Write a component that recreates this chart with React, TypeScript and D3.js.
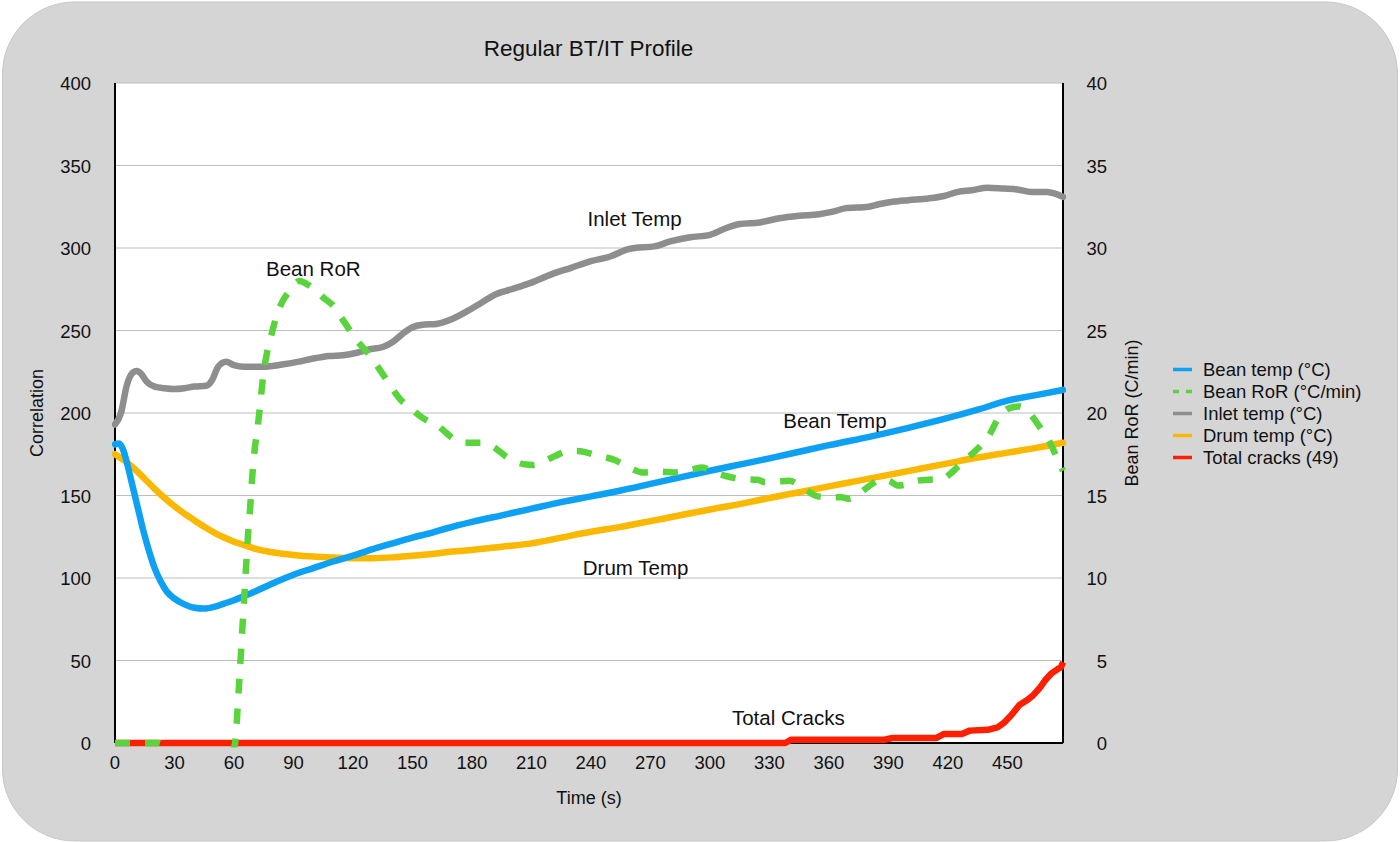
import React from "react";
import * as d3 from "d3";

type Pt = [number, number]; // [time (s), value]

// Bean temp (°C), left axis
const beanTemp: Pt[] = [
  [0, 181], [2, 181.5], [4, 178], [6, 170], [8, 160], [10, 150], [12, 140], [14, 130], [17, 117],
  [20, 106], [23, 98], [26, 92], [30, 87.5], [35, 84], [40, 82], [45, 81.5], [50, 82.5], [55, 84.5],
  [60, 86.5], [65, 89], [70, 91.5], [80, 97], [90, 102], [100, 106], [110, 110], [120, 113.5],
  [130, 117.5], [140, 121], [150, 124.5], [160, 127.5], [167, 130], [180, 134], [195, 138],
  [210, 142], [225, 146], [240, 149.5], [255, 153], [270, 157], [285, 161], [300, 165], [316, 169],
  [330, 172.5], [345, 176.5], [360, 180.5], [382, 186], [400, 191], [420, 197], [435, 202],
  [450, 207.5], [465, 211], [478, 214],
];

// Drum temp (°C), left axis
const drumTemp: Pt[] = [
  [0, 175], [5, 171], [10, 166], [15, 160], [20, 154], [25, 148.5], [30, 143.5], [35, 139],
  [40, 135], [45, 131], [50, 127.5], [55, 124.5], [60, 122], [65, 120], [70, 118], [80, 115.5],
  [90, 114], [100, 113], [110, 112.5], [120, 112], [130, 112], [140, 112.5], [150, 113.5],
  [160, 114.5], [170, 116], [180, 117], [195, 119], [210, 121], [225, 124.5], [240, 128],
  [255, 131], [270, 134.5], [285, 138], [300, 141.5], [318, 145.5], [330, 148.5], [345, 152],
  [360, 155.5], [375, 159], [390, 162.5], [405, 166], [420, 169.5], [435, 173], [450, 176],
  [465, 179], [478, 182],
];

// Inlet temp (°C), left axis
const inletTemp: Pt[] = [
  [0, 193], [3, 200], [6, 217], [9, 224.5], [11, 225.5], [13, 224], [16, 219], [20, 216], [25, 215],
  [30, 214.5], [35, 215], [40, 216], [46, 216.5], [49, 220], [52, 228], [56, 231], [60, 229],
  [65, 228], [75, 228], [85, 229.5], [92, 231], [100, 233], [108, 234.5], [115, 235], [122, 236.5],
  [128, 238.5], [135, 240], [140, 243], [145, 248], [150, 252], [155, 253.5], [162, 254],
  [170, 257], [178, 262], [185, 267], [192, 272], [200, 275], [210, 279], [220, 284], [230, 288],
  [240, 292], [250, 295], [258, 299], [262, 300], [272, 301], [280, 304], [290, 306.5], [300, 308],
  [308, 312], [315, 314.5], [325, 315.5], [335, 318], [345, 319.5], [355, 320.5], [362, 322],
  [368, 324], [380, 325], [385, 326.5], [392, 328], [400, 329], [410, 330], [418, 331.5],
  [425, 334], [432, 335], [440, 336.5], [448, 336], [455, 335.5], [462, 334], [470, 334],
  [474, 333], [478, 331],
];

// Bean RoR (°C/min), right axis
const beanRoR: Pt[] = [
  [0, 0], [10, 0], [22, 0], [26, -0.25], [30, -0.6], [36, -0.8], [50, -0.8], [58, -0.6], [60, -0.3],
  [61, 0.5], [62, 2.5], [63, 4.4], [64, 6.5], [65, 8.5], [66, 10.5], [67, 12.5], [68, 14],
  [69, 15.8], [70, 17.3], [72, 19.2], [75, 22.5], [79, 24.8], [83, 26.4], [88, 27.4], [93, 28],
  [97, 27.8], [102, 27.35], [105, 27], [110, 26.5], [114, 25.8], [122, 24.4], [129, 23.4],
  [137, 22], [144, 20.8], [149, 20.3], [154, 19.8], [158, 19.5], [162, 19.3], [167, 18.8],
  [171, 18.4], [176, 18.2], [185, 18.2], [190, 18], [198, 17.3], [206, 16.9], [211, 16.85],
  [216, 17.05], [222, 17.4], [227, 17.65], [233, 17.7], [238, 17.6], [244, 17.4], [252, 17.15],
  [260, 16.65], [266, 16.4], [274, 16.45], [282, 16.4], [287, 16.45], [292, 16.6], [296, 16.7],
  [302, 16.4], [309, 16.15], [316, 16], [324, 15.95], [328, 15.8], [334, 15.85], [340, 15.9],
  [344, 15.7], [349, 15.3], [353, 15], [358, 14.9], [366, 14.9], [370, 14.8], [375, 15.1],
  [380, 15.55], [386, 15.95], [390, 15.9], [395, 15.6], [400, 15.7], [405, 15.9], [410, 15.95],
  [417, 16], [421, 16.3], [425, 16.75], [430, 17.3], [436, 17.95], [440, 18.5], [446, 19.8],
  [451, 20.3], [456, 20.4], [461, 20], [466, 19.2], [471, 18.3], [476, 17], [478, 16.5],
];

// Total cracks (count), left axis
const totalCracks: Pt[] = [
  [0, 0], [338, 0], [341, 2], [388, 2], [392, 3], [414, 3], [418, 5.5], [427, 5.5], [431, 7.5],
  [440, 8], [445, 9.5], [448, 12], [452, 17], [456, 23], [460, 26], [463, 29], [466, 33],
  [469, 38], [472, 42], [475, 44.5], [477, 46], [478, 49],
];

const xTicks = [0, 30, 60, 90, 120, 150, 180, 210, 240, 270, 300, 330, 360, 390, 420, 450];
const leftTicks = [0, 50, 100, 150, 200, 250, 300, 350, 400];
const rightTicks = [0, 5, 10, 15, 20, 25, 30, 35, 40];

const legendItems = [
  { label: "Bean temp (°C)", color: "#0ea0f2", dashed: false },
  { label: "Bean RoR (°C/min)", color: "#5ad43c", dashed: true },
  { label: "Inlet temp (°C)", color: "#8e8e8e", dashed: false },
  { label: "Drum temp (°C)", color: "#fbb800", dashed: false },
  { label: "Total cracks (49)", color: "#fc2000", dashed: false },
];

// chart annotations, placed in data units (time, left axis value)
const annotations = [
  { text: "Bean RoR", t: 100, v: 287 },
  { text: "Inlet Temp", t: 262, v: 317.5 },
  { text: "Bean Temp", t: 363, v: 195 },
  { text: "Drum Temp", t: 262.5, v: 106 },
  { text: "Total Cracks", t: 339.5, v: 15 },
];

const W = 1400;
const H = 842;
const left = 115;
const right = 1063;
const top = 83;
const bottom = 743;
const font = "'Liberation Sans', Arial, Helvetica, sans-serif";

const App: React.FC = () => {
  const x = d3.scaleLinear().domain([0, 478]).range([left, right]);
  const yL = d3.scaleLinear().domain([0, 400]).range([bottom, top]);
  const yR = d3.scaleLinear().domain([0, 40]).range([bottom, top]);

  const lineL = d3
    .line<Pt>()
    .x((d) => x(d[0]))
    .y((d) => yL(d[1]))
    .curve(d3.curveMonotoneX);
  const lineR = d3
    .line<Pt>()
    .x((d) => x(d[0]))
    .y((d) => yR(d[1]))
    .curve(d3.curveMonotoneX);
  const lineStep = d3
    .line<Pt>()
    .x((d) => x(d[0]))
    .y((d) => yL(d[1]))
    .curve(d3.curveLinear);

  return (
    <svg
      width={W}
      height={H}
      style={{ position: "absolute", left: 0, top: 0, fontFamily: font }}
    >
      <defs>
        <clipPath id="plotClip">
          <rect x={left - 3} y={top - 5} width={right - left + 6} height={bottom - top + 9.5} />
        </clipPath>
      </defs>
      <rect x={0} y={0} width={W} height={H} fill="#fff" />
      <rect x={2.5} y={2} width={W - 5} height={H - 3} rx={72} ry={72} fill="#d5d5d5" stroke="#c8c8c8" />

      {/* plot area */}
      <rect x={left} y={top} width={right - left} height={bottom - top} fill="#fff" />
      {leftTicks.map((v) => (
        <line key={v} x1={left} x2={right} y1={yL(v)} y2={yL(v)} stroke="#bdbdbd" strokeWidth={1} />
      ))}
      <line x1={left} x2={left} y1={top} y2={bottom} stroke="#000" strokeWidth={2} />
      <line x1={right} x2={right} y1={top} y2={bottom} stroke="#000" strokeWidth={2} />
      <line x1={left} x2={right} y1={bottom} y2={bottom} stroke="#000" strokeWidth={2} />

      {/* title */}
      <text x={588.5} y={56} fontSize={22.5} textAnchor="middle" fill="#111">
        Regular BT/IT Profile
      </text>

      {/* left axis */}
      {leftTicks.map((v) => (
        <text key={v} x={91} y={yL(v) + 7} fontSize={18.5} textAnchor="end" fill="#111">
          {v}
        </text>
      ))}
      <text
        transform={`translate(43, ${(top + bottom) / 2}) rotate(-90)`}
        fontSize={18}
        textAnchor="middle"
        fill="#111"
      >
        Correlation
      </text>

      {/* right axis */}
      {rightTicks.map((v) => (
        <text key={v} x={1107} y={yR(v) + 7} fontSize={18.5} textAnchor="end" fill="#111">
          {v}
        </text>
      ))}
      <text
        transform={`translate(1138, ${(top + bottom) / 2}) rotate(-90)`}
        fontSize={18}
        textAnchor="middle"
        fill="#111"
      >
        Bean RoR (C/min)
      </text>

      {/* x axis */}
      {xTicks.map((t) => (
        <text key={t} x={x(t)} y={769} fontSize={18.5} textAnchor="middle" fill="#111">
          {t}
        </text>
      ))}
      <text x={589} y={804} fontSize={18} textAnchor="middle" fill="#111">
        Time (s)
      </text>

      {/* series */}
      <g clipPath="url(#plotClip)" fill="none" strokeLinejoin="round">
        <path d={lineStep(totalCracks) ?? ""} stroke="#fc2000" strokeWidth={6.5} />
        <path d={lineL(drumTemp) ?? ""} stroke="#fbb800" strokeWidth={6.5} strokeLinecap="round" />
        <path d={lineL(inletTemp) ?? ""} stroke="#8e8e8e" strokeWidth={6.5} strokeLinecap="round" />
        <path d={lineL(beanTemp) ?? ""} stroke="#0ea0f2" strokeWidth={6.5} strokeLinecap="round" />
        <path d={lineR(beanRoR) ?? ""} stroke="#5ad43c" strokeWidth={6.5} strokeDasharray="15 15" />
      </g>

      {/* annotations */}
      {annotations.map((a) => (
        <text
          key={a.text}
          x={x(a.t)}
          y={yL(a.v) + 7}
          fontSize={20.5}
          textAnchor="middle"
          fill="#111"
        >
          {a.text}
        </text>
      ))}

      {/* legend */}
      {legendItems.map((item, i) => {
        const cy = 369.5 + i * 22;
        return (
          <g key={item.label}>
            <line
              x1={1173}
              x2={1192}
              y1={cy}
              y2={cy}
              stroke={item.color}
              strokeWidth={3.5}
              strokeDasharray={item.dashed ? "6 7" : undefined}
            />
            <text x={1203} y={cy + 6.5} fontSize={18.5} fill="#111">
              {item.label}
            </text>
          </g>
        );
      })}
    </svg>
  );
};

export default App;
